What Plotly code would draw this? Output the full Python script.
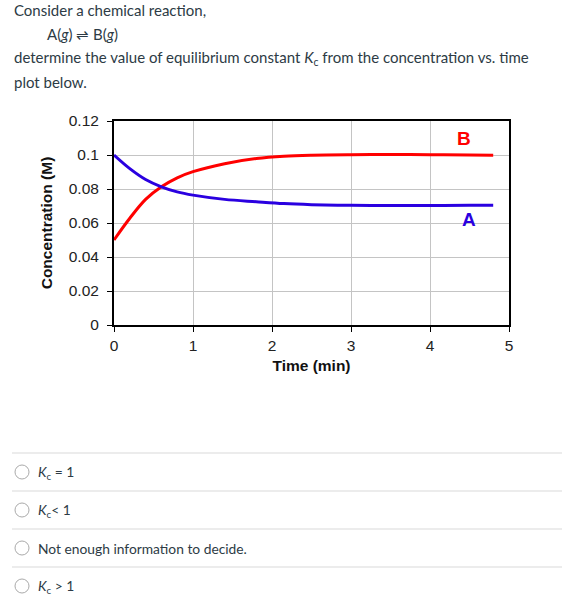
import plotly.graph_objects as go

# Data
time_min = [0, 0.2, 0.4, 0.6, 0.8, 1.0, 1.4, 1.8, 2.15, 2.5, 3.0, 3.5, 4.0, 4.5, 4.8]
conc_A = [0.100, 0.0920, 0.0856, 0.0813, 0.0783, 0.0764, 0.0739, 0.0725, 0.0714, 0.0708, 0.0704, 0.0703, 0.0703, 0.0704, 0.0705]
conc_B = [0.050, 0.0628, 0.0739, 0.0813, 0.0866, 0.0902, 0.0949, 0.0979, 0.0993, 0.0999, 0.1002, 0.1003, 0.1002, 0.1000, 0.0998]
x_ticks = [0, 1, 2, 3, 4, 5]
y_ticks = [0, 0.02, 0.04, 0.06, 0.08, 0.1, 0.12]
y_tick_labels = ["0", "0.02", "0.04", "0.06", "0.08", "0.1", "0.12"]
options = ["<i>K</i><sub>c</sub> = 1", "<i>K</i><sub>c</sub>< 1",
           "Not enough information to decide.", "<i>K</i><sub>c</sub> > 1"]

W, H = 574, 609
# plot area in page pixels
L, R, T, B = 114, 509, 121, 325
pw, ph = R - L, B - T

def px(x):
    return (x - L) / pw

def py(y):
    return (B - y) / ph

RED = "#ff0000"
BLUE = "#2a00e0"
TXT = "#2d3b45"

fig = go.Figure()
fig.add_trace(go.Scatter(x=time_min, y=conc_B, mode="lines", line=dict(color=RED, width=3, shape="spline", smoothing=1.0), showlegend=False))
fig.add_trace(go.Scatter(x=time_min, y=conc_A, mode="lines", line=dict(color=BLUE, width=3, shape="spline", smoothing=1.0), showlegend=False))

ax_font = dict(family="Arial, Liberation Sans", size=15.5, color="#222")
title_font = dict(family="Arial, Liberation Sans", size=15.5, color="#111")
common = dict(showgrid=True, gridcolor="#c4c4c4", gridwidth=1,
              showline=True, linecolor="black", linewidth=2, mirror=True,
              ticks="outside", ticklen=5, tickcolor="black", tickwidth=1,
              tickfont=ax_font, zeroline=False)
fig.update_xaxes(range=[0, 5], tickvals=x_ticks, ticklabelstandoff=0,
                 title=dict(text="<b>Time (min)</b>", font=title_font, standoff=8), **common)
fig.update_yaxes(range=[0, 0.12], tickvals=y_ticks, ticktext=y_tick_labels, ticklabelstandoff=5,
                 title=dict(text="<b>Concentration (M)</b>", font=title_font, standoff=12), **common)

annotations = []
def txt(x, y, text, size=15, color=TXT, family="Lato", xanchor="left"):
    annotations.append(dict(xref="paper", yref="paper", x=px(x), y=py(y), text=text, showarrow=False,
                            xanchor=xanchor, yanchor="middle", font=dict(family=family, size=size, color=color)))

txt(12, 10, "Consider a chemical reaction,")
txt(45, 34, "A(<i>g</i>) \u21cc B(<i>g</i>)")
txt(12, 58, "determine the value of equilibrium constant <i>K</i><sub>c</sub> from the concentration vs. time")
txt(12, 82, "plot below.")

txt(464, 138, "<b>B</b>", size=19, color=RED, family="Arial, Liberation Sans", xanchor="center")
txt(469, 219, "<b>A</b>", size=19, color=BLUE, family="Arial, Liberation Sans", xanchor="center")

shapes = []
line_ys = [453, 491, 529, 567]
for ly in line_ys:
    shapes.append(dict(type="line", xref="paper", yref="paper", x0=px(12), x1=px(562), y0=py(ly), y1=py(ly),
                       line=dict(color="#d9d9d9", width=1)))
for i, opt in enumerate(options):
    cy = 472 + 38 * i
    shapes.append(dict(type="circle", xref="paper", yref="paper", x0=px(15), x1=px(29), y0=py(cy + 7), y1=py(cy - 7),
                       line=dict(color="#aaaaaa", width=1), fillcolor="white"))
    txt(36, cy, opt, size=13.8)

fig.update_layout(width=W, height=H,
                  margin=dict(l=L, r=W - R, t=T, b=H - B, pad=0),
                  plot_bgcolor="white", paper_bgcolor="white",
                  annotations=annotations, shapes=shapes)
fig.write_html("out.html", config={"displayModeBar": False},
               post_script="document.body.style.margin='0';document.body.style.overflow='hidden';")
